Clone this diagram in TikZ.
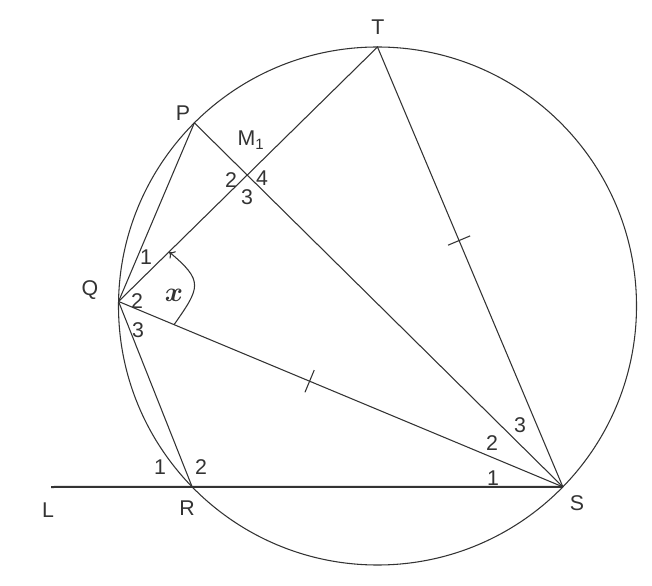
\documentclass[tikz,border=0pt]{standalone}
\usepackage{amsmath,amssymb}
\usepackage{fontspec}
\setmainfont{Liberation Sans}
\usetikzlibrary{calc,arrows.meta}

\begin{document}
\begin{tikzpicture}[x=0.75pt,y=0.75pt,line width=0.8pt,color=black!80,
  lbl/.style={font=\fontsize{16}{16}\selectfont,inner sep=0pt},
  tickmark/.style={sloped,draw,inner sep=0pt,minimum width=0pt,minimum height=18pt}]
\useasboundingbox (0,0) rectangle (652,585);
\coordinate (O) at (377.5,279);
\draw (O) circle (259);
\coordinate (T) at ($(O)+(90:259)$);
\coordinate (P) at ($(O)+(135:259)$);
\coordinate (Q) at ($(O)+(179:259)$);
\coordinate (R) at ($(O)+(224.3:259)$);
\coordinate (S) at ($(O)+(-44.3:259)$);
\coordinate (L) at (51,98);
\coordinate (M) at (intersection of Q--T and P--S);
\draw (Q) -- (P) -- (S);
\draw (Q) -- (T) -- (S) node[tickmark,pos=0.44]{};
\draw (Q) -- (S) node[tickmark,pos=0.43]{};
\draw (Q) -- (R);
\draw[line width=1.5pt] (L) -- (S);
\coordinate (xa) at ($(Q)!0.125!(S)$);
\coordinate (xb) at ($(Q)!0.195!(T)$);
\draw[-{To[length=4pt,width=7pt]}] (xa) to[out=55,in=-40,looseness=1.6] (xb);
\node (lx) at (174,290) {\fontsize{21}{21}\selectfont$\boldsymbol{x}$};
\node[lbl] (lT) at (378,558) {T};
\node[lbl] (lP) at (183,472) {P};
\node[lbl] (lM) at (251,445) {M\textsubscript{1}};
\node[lbl] (lM2) at (231,405) {2};
\node[lbl] (lM4) at (262,407) {4};
\node[lbl] (lM3) at (247,388) {3};
\node[lbl] (lQ) at (90,295) {Q};
\node[lbl] (lQ1) at (146,328) {1};
\node[lbl] (lQ2) at (137,284) {2};
\node[lbl] (lQ3) at (138,255) {3};
\node[lbl] (lR1) at (160,118) {1};
\node[lbl] (lR2) at (201,118) {2};
\node[lbl] (lR) at (187,77) {R};
\node[lbl] (lL) at (48,75) {L};
\node[lbl] (lS) at (577,82) {S};
\node[lbl] (lS1) at (493,107) {1};
\node[lbl] (lS2) at (492,142) {2};
\node[lbl] (lS3) at (520,160) {3};
\end{tikzpicture}
\end{document}
